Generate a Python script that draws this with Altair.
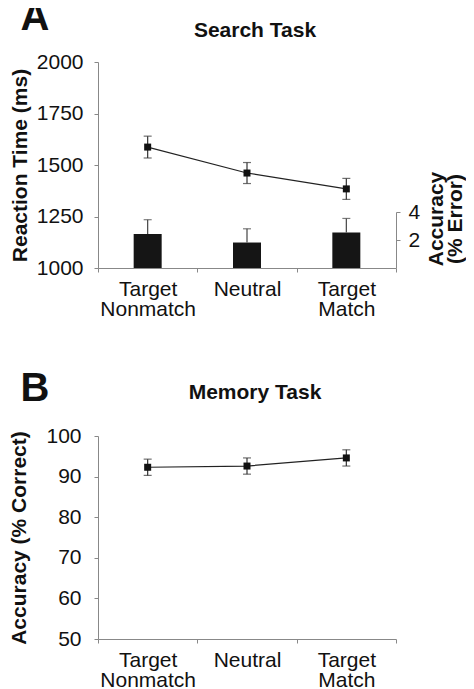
import altair as alt
import pandas as pd

conditions = ["Target Nonmatch", "Neutral", "Target Match"]
rt_mean = [1587, 1461, 1384]
rt_sem = [53, 51, 51]
err_mean = [2.42, 1.82, 2.53]
err_sem = [1.03, 0.98, 1.01]
mem_mean = [92.3, 92.6, 94.6]
mem_sem = [2.0, 2.0, 2.0]
rt_ticks = [1000, 1250, 1500, 1750, 2000]
err_ticks = [2, 4]
mem_ticks = [50, 60, 70, 80, 90, 100]

FONT = "Liberation Sans"
INK = "#111111"

search = pd.DataFrame({
    "cond": conditions,
    "rt": rt_mean,
    "rt_lo": [m - s for m, s in zip(rt_mean, rt_sem)],
    "rt_hi": [m + s for m, s in zip(rt_mean, rt_sem)],
    "err": err_mean,
    "err_hi": [m + s for m, s in zip(err_mean, err_sem)],
})
memory = pd.DataFrame({
    "cond": conditions,
    "acc": mem_mean,
    "acc_lo": [m - s for m, s in zip(mem_mean, mem_sem)],
    "acc_hi": [m + s for m, s in zip(mem_mean, mem_sem)],
})
letter_a = pd.DataFrame({"label": ["A"]})
letter_b = pd.DataFrame({"label": ["B"]})
title_a = pd.DataFrame({"label": ["Search Task"]})
title_b = pd.DataFrame({"label": ["Memory Task"]})
err_title_1 = pd.DataFrame({"label": ["Accuracy"]})
err_title_2 = pd.DataFrame({"label": ["(% Error)"]})

xaxis = alt.Axis(title=None, labelAngle=0, tickBand="extent",
                 labelExpr="split(datum.label, ' ')", labelLineHeight=20,
                 labelPadding=6)
xenc = alt.X("cond:N", sort=conditions,
             scale=alt.Scale(paddingInner=0, paddingOuter=0), axis=xaxis)


def label_mark(df, size, x, y, angle=0, baseline="alphabetic"):
    return alt.Chart(df).mark_text(font=FONT, fontSize=size, fontWeight="bold",
                                   color=INK, align="center", baseline=baseline,
                                   angle=angle).encode(
        text="label:N", x=alt.value(x), y=alt.value(y))


# ---- Panel A ----
rt_scale = alt.Scale(domain=[1000, 2000])
rt_axis = alt.Axis(values=rt_ticks, format="d", title="Reaction Time (ms)",
                   titlePadding=6, labelPadding=11)

base_a = alt.Chart(search)
rt_line = base_a.mark_line(color="#222222", strokeWidth=1.2).encode(
    x=xenc, y=alt.Y("rt:Q", scale=rt_scale, axis=rt_axis))
rt_pts = base_a.mark_square(size=49, color=INK, opacity=1).encode(
    x=xenc, y=alt.Y("rt:Q", scale=rt_scale, axis=rt_axis))
rt_rule = base_a.mark_rule(color="#333333", strokeWidth=1.2).encode(
    x=xenc, y=alt.Y("rt_lo:Q", scale=rt_scale, axis=rt_axis), y2="rt_hi:Q")
rt_cap_hi = base_a.mark_tick(size=8, thickness=1.2, color="#333333", orient="horizontal").encode(
    x=xenc, y=alt.Y("rt_hi:Q", scale=rt_scale, axis=rt_axis))
rt_cap_lo = base_a.mark_tick(size=8, thickness=1.2, color="#333333", orient="horizontal").encode(
    x=xenc, y=alt.Y("rt_lo:Q", scale=rt_scale, axis=rt_axis))

rt_layer = alt.layer(rt_rule, rt_cap_hi, rt_cap_lo, rt_line, rt_pts,
                     label_mark(letter_a, 40, -63, -32),
                     label_mark(title_a, 21, 157, -25),
                     label_mark(err_title_1, 21, 339, 157, angle=270, baseline="middle"),
                     label_mark(err_title_2, 21, 358, 157, angle=270, baseline="middle"))

err_scale = alt.Scale(domain=[0, 4], range=[206, 150])
err_axis = alt.Axis(orient="right", values=err_ticks, title=None, labelPadding=8)
err_bar = base_a.mark_bar(size=28, color="#151515").encode(
    x=xenc, y=alt.Y("err:Q", scale=err_scale, axis=err_axis))
err_rule = base_a.mark_rule(color="#444444", strokeWidth=1.2).encode(
    x=xenc, y=alt.Y("err:Q", scale=err_scale, axis=err_axis), y2="err_hi:Q")
err_cap = base_a.mark_tick(size=8, thickness=1.2, color="#444444", orient="horizontal").encode(
    x=xenc, y=alt.Y("err_hi:Q", scale=err_scale, axis=err_axis))
bar_layer = alt.layer(err_bar, err_rule, err_cap)

panel_a = alt.layer(rt_layer, bar_layer).resolve_scale(y="independent").properties(
    width=298, height=206)

# ---- Panel B ----
acc_scale = alt.Scale(domain=[50, 100])
acc_axis = alt.Axis(values=mem_ticks, title="Accuracy (% Correct)",
                    titlePadding=16, labelPadding=13)
base_b = alt.Chart(memory)
acc_line = base_b.mark_line(color="#222222", strokeWidth=1.2).encode(
    x=xenc, y=alt.Y("acc:Q", scale=acc_scale, axis=acc_axis))
acc_pts = base_b.mark_square(size=49, color=INK, opacity=1).encode(
    x=xenc, y=alt.Y("acc:Q", scale=acc_scale, axis=acc_axis))
acc_rule = base_b.mark_rule(color="#333333", strokeWidth=1.2).encode(
    x=xenc, y=alt.Y("acc_lo:Q", scale=acc_scale, axis=acc_axis), y2="acc_hi:Q")
acc_cap_hi = base_b.mark_tick(size=8, thickness=1.2, color="#333333", orient="horizontal").encode(
    x=xenc, y=alt.Y("acc_hi:Q", scale=acc_scale, axis=acc_axis))
acc_cap_lo = base_b.mark_tick(size=8, thickness=1.2, color="#333333", orient="horizontal").encode(
    x=xenc, y=alt.Y("acc_lo:Q", scale=acc_scale, axis=acc_axis))

panel_b = alt.layer(acc_rule, acc_cap_hi, acc_cap_lo, acc_line, acc_pts,
                    label_mark(letter_b, 40, -63, -35),
                    label_mark(title_b, 21, 157, -37)).properties(
    width=298, height=203)

chart = alt.vconcat(panel_a, panel_b, spacing=50).properties(
    padding={"left": 0, "top": -10, "right": 0, "bottom": 0}
).configure_view(stroke=None).configure_axis(
    domainColor="#888888", tickColor="#888888", tickSize=4, domainWidth=1, tickWidth=1,
    labelFont=FONT, labelFontSize=21, labelColor=INK,
    titleFont=FONT, titleFontSize=21, titleFontWeight="bold", titleColor=INK,
    grid=False,
)

chart.save("out.html", embed_options={"renderer": "svg", "actions": False})
